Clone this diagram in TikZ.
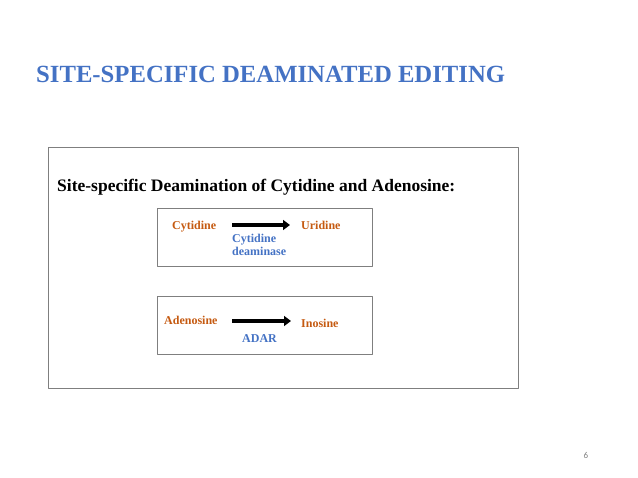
\documentclass[tikz,border=0pt]{standalone}
\usepackage{fontspec}
\setmainfont{Liberation Serif}
\newfontfamily\pagenofont{Carlito}
\usetikzlibrary{arrows.meta}
\definecolor{titleblue}{HTML}{4472C4}
\definecolor{rnaorange}{HTML}{C55A11}
\definecolor{boxgrey}{HTML}{7F7F7F}
\tikzset{
  base/.style={font=\bfseries\fontsize{12}{13}\selectfont, inner sep=0pt, anchor=base west},
  nucl/.style={base, text=rnaorange},
  enzyme/.style={base, text=titleblue},
  reaction/.style={line width=3.5pt, -{Triangle[length=7pt,width=10pt]}},
  frame/.style={draw=boxgrey, line width=0.8pt}
}
\begin{document}
\begin{tikzpicture}[x=1pt, y=-1pt, line join=round]
	\useasboundingbox (0,0) rectangle (638,478);
	% title
	\node[inner sep=0pt, anchor=base west, text=titleblue, font=\bfseries\fontsize{24.7}{27}\selectfont] (title) at (36,83) {SITE-SPECIFIC DEAMINATED EDITING};
	% outer box
	\draw[frame] (48,147) rectangle (518,388);
	\node[inner sep=0pt, anchor=base west, font=\bfseries\fontsize{17.5}{19}\selectfont] (sub) at (57,192) {Site-specific Deamination of Cytidine and Adenosine:};
	% cytidine box
	\draw[frame] (157,208) rectangle (372,266);
	\node[nucl] (cyt) at (172,230) {Cytidine};
	\node[nucl] (uri) at (301,230) {Uridine};
	\node[enzyme] (cda1) at (232,243) {Cytidine};
	\node[enzyme] (cda2) at (232,256) {deaminase};
	\coordinate (c1) at (232,225);
	\coordinate (c2) at (290,225);
	\draw[reaction] (c1)--(c2);
	% adenosine box
	\draw[frame] (157,296) rectangle (372,354);
	\node[nucl] (ade) at (164,325) {Adenosine};
	\node[nucl] (ino) at (301,328) {Inosine};
	\node[enzyme] (adar) at (242,343) {ADAR};
	\coordinate (a1) at (232,321);
	\coordinate (a2) at (291,321);
	\draw[reaction] (a1)--(a2);
	% page number
	\node[inner sep=0pt, anchor=base, text=gray, font=\pagenofont\fontsize{9}{10}\selectfont] (pg) at (586,459) {6};
\end{tikzpicture}
\end{document}
